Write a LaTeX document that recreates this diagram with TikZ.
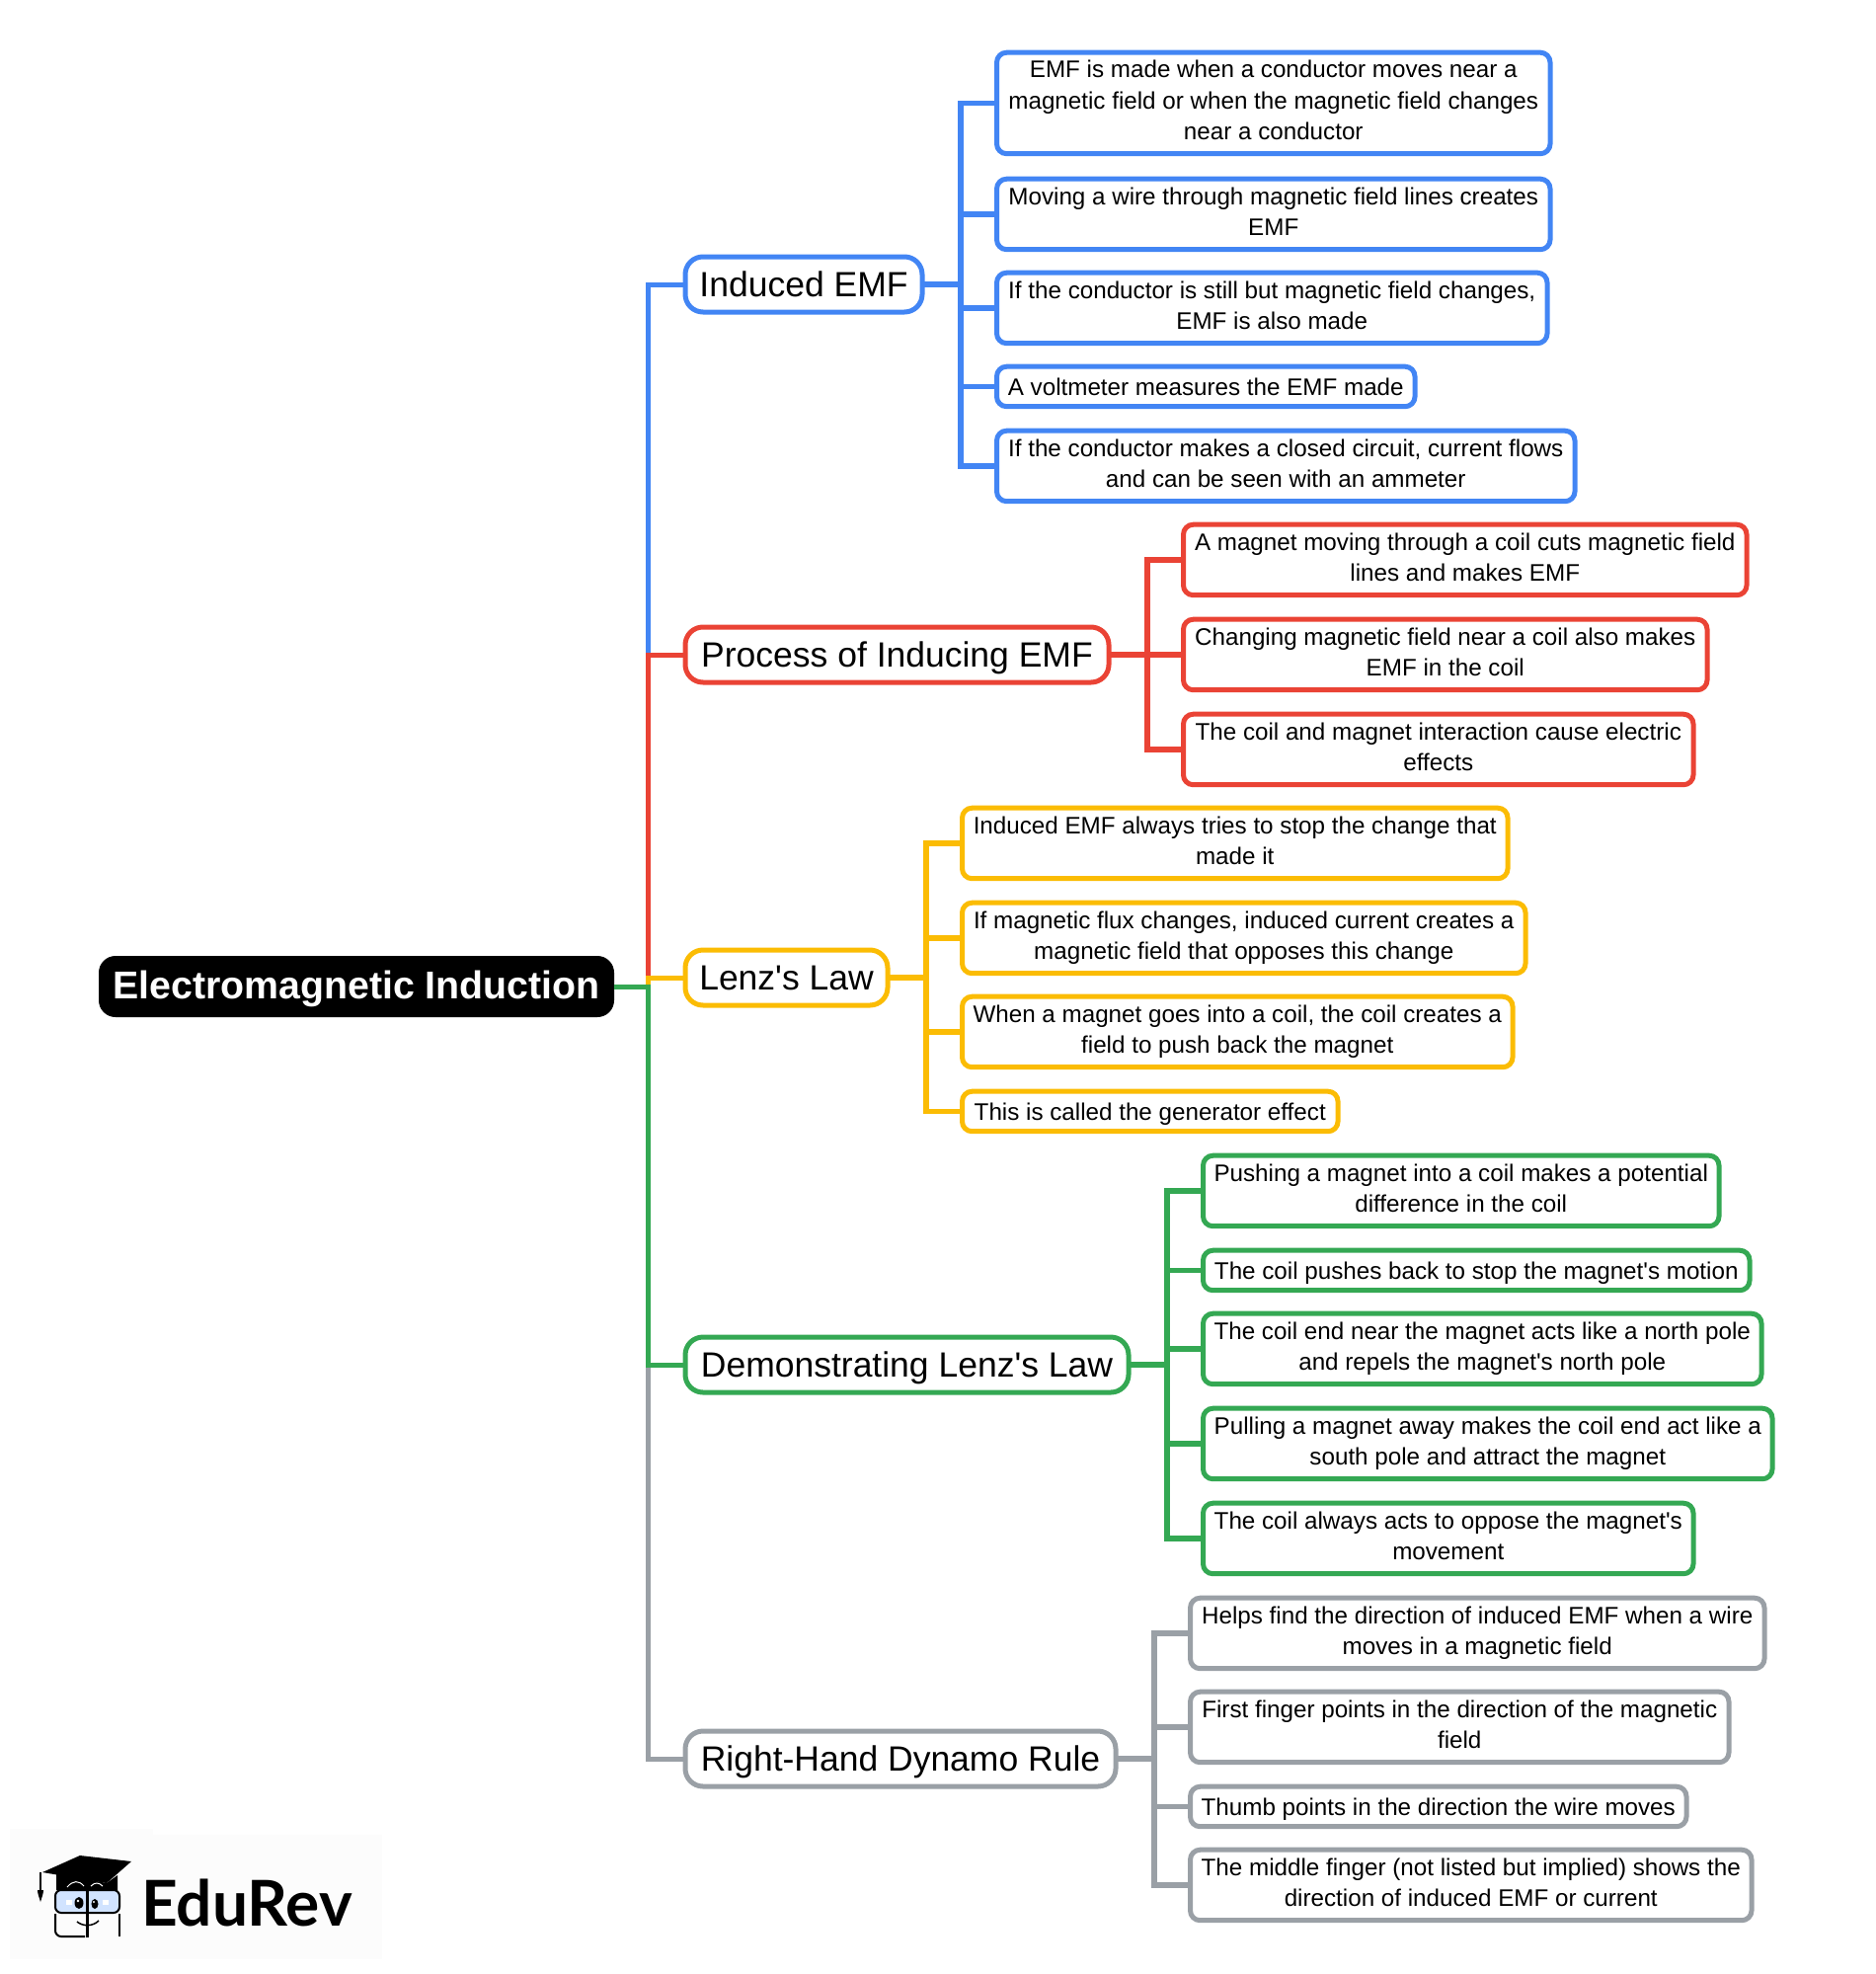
\documentclass[tikz,border=0pt]{standalone}
\usepackage{fontspec}
\setmainfont{Liberation Sans}
\newfontfamily\logofont{Lato}
\usepackage{tikz}
\usetikzlibrary{positioning}

\definecolor{gblue}{HTML}{4285F4}
\definecolor{gred}{HTML}{EA4335}
\definecolor{gyellow}{HTML}{FBBC04}
\definecolor{ggreen}{HTML}{34A853}
\definecolor{ggray}{HTML}{9AA0A6}

\tikzset{
	rootbox/.style={fill=black,text=white,rounded corners=17pt,outer sep=0,
		font=\fontsize{39.3}{46}\selectfont\bfseries,text height=28.4pt,text depth=3pt},
	mainbox/.style={draw=#1,line width=5pt,rounded corners=18pt,outer sep=0,
		font=\fontsize{35.5}{42}\selectfont,minimum height=56pt,text height=25.3pt,text depth=0pt},
	leafbox/.style={draw=#1,line width=5pt,rounded corners=10pt,outer sep=0,align=center,inner sep=0,
		font=\fontsize{24.2}{31.3}\selectfont,
		execute at begin node={\rule{0pt}{24.5pt}},
		execute at end node={\rule[-6pt]{0pt}{6pt}}},
	spine/.style={draw=#1,line width=5pt},
	stem/.style={draw=#1,line width=5.5pt}
}

\begin{document}
\begin{tikzpicture}[x=1pt,y=1pt]
		
		\useasboundingbox (0,0) rectangle (1899,-1999);
		
		% Root and branches
		\node[rootbox,
		minimum width=522pt,
		minimum height=62pt] (root) at (361,-999) {Electromagnetic Induction};
		
		\coordinate (trunk) at (656,-999);
		
		\node[mainbox=gblue,
		minimum width=240pt,
		anchor=west] (induced) at (694,-288) {Induced EMF};
		
		\node[mainbox=gred,
		below=375pt of induced.west,
		anchor=west,
		minimum width=429pt] (process) {Process of Inducing EMF};
		
		\node[mainbox=gyellow,
		below=327pt of process.west,
		anchor=west,
		minimum width=205pt] (lenz) {Lenz\textquotesingle s Law};
		
		\node[mainbox=ggreen,
		below=392pt of lenz.west,
		anchor=west,
		minimum width=449pt] (demo) {Demonstrating Lenz\textquotesingle s Law};
		
		\node[mainbox=ggray,
		below=399pt of demo.west,
		anchor=west,
		minimum width=436pt] (dynamo) {Right-Hand Dynamo Rule};
		
		% Induced EMF
		\node[leafbox=gblue,
		above right=234.8pt and 75.5pt of induced.east,
		anchor=north west,
		minimum width=560.5pt,
		minimum height=102.5pt] (induced1) {EMF is made when a conductor moves near a \\ magnetic field or when the magnetic field changes \\ near a conductor};
		
		\node[leafbox=gblue,
		below=25.5pt of induced1.south west,
		anchor=north west,
		minimum width=560.5pt,
		minimum height=71.5pt] (induced2) {Moving a wire through magnetic field lines creates \\ EMF};
		
		\node[leafbox=gblue,
		below=23.5pt of induced2.south west,
		anchor=north west,
		minimum width=557.5pt,
		minimum height=71.5pt] (induced3) {If the conductor is still but magnetic field changes, \\ EMF is also made};
		
		\node[leafbox=gblue,
		below=23.5pt of induced3.south west,
		anchor=north west,
		minimum width=423.5pt,
		minimum height=40.5pt] (induced4) {A voltmeter measures the EMF made};
		
		\node[leafbox=gblue,
		below=24.5pt of induced4.south west,
		anchor=north west,
		minimum width=585.5pt,
		minimum height=71.5pt] (induced5) {If the conductor makes a closed circuit, current flows \\ and can be seen with an ammeter};
		
		% Process of Inducing EMF
		\node[leafbox=gred,
		above right=131.8pt and 75.5pt of process.east,
		anchor=north west,
		minimum width=570.5pt,
		minimum height=71.5pt] (process1) {A magnet moving through a coil cuts magnetic field \\ lines and makes EMF};
		
		\node[leafbox=gred,
		below=24.5pt of process1.south west,
		anchor=north west,
		minimum width=530.5pt,
		minimum height=71.5pt] (process2) {Changing magnetic field near a coil also makes \\ EMF in the coil};
		
		\node[leafbox=gred,
		below=24.5pt of process2.south west,
		anchor=north west,
		minimum width=516.5pt,
		minimum height=71.5pt] (process3) {The coil and magnet interaction cause electric \\ effects};
		
		% Lenz's Law
		\node[leafbox=gyellow,
		above right=171.8pt and 75.5pt of lenz.east,
		anchor=north west,
		minimum width=552.5pt,
		minimum height=71.5pt] (lenz1) {Induced EMF always tries to stop the change that \\ made it};
		
		\node[leafbox=gyellow,
		below=24.5pt of lenz1.south west,
		anchor=north west,
		minimum width=570.5pt,
		minimum height=71.5pt] (lenz2) {If magnetic flux changes, induced current creates a \\ magnetic field that opposes this change};
		
		\node[leafbox=gyellow,
		below=23.5pt of lenz2.south west,
		anchor=north west,
		minimum width=557.5pt,
		minimum height=71.5pt] (lenz3) {When a magnet goes into a coil, the coil creates a \\ field to push back the magnet};
		
		\node[leafbox=gyellow,
		below=24.5pt of lenz3.south west,
		anchor=north west,
		minimum width=380.5pt,
		minimum height=40.5pt] (lenz4) {This is called the generator effect};
		
		% Demonstrating Lenz's Law
		\node[leafbox=ggreen,
		above right=211.8pt and 75.5pt of demo.east,
		anchor=north west,
		minimum width=522.5pt,
		minimum height=71.5pt] (demo1) {Pushing a magnet into a coil makes a potential \\ difference in the coil};
		
		\node[leafbox=ggreen,
		below=24.5pt of demo1.south west,
		anchor=north west,
		minimum width=553.5pt,
		minimum height=40.5pt] (demo2) {The coil pushes back to stop the magnet\textquotesingle s motion};
		
		\node[leafbox=ggreen,
		below=23.5pt of demo2.south west,
		anchor=north west,
		minimum width=565.5pt,
		minimum height=71.5pt] (demo3) {The coil end near the magnet acts like a north pole \\ and repels the magnet\textquotesingle s north pole};
		
		\node[leafbox=ggreen,
		below=24.5pt of demo3.south west,
		anchor=north west,
		minimum width=576.5pt,
		minimum height=71.5pt] (demo4) {Pulling a magnet away makes the coil end act like a \\ south pole and attract the magnet};
		
		\node[leafbox=ggreen,
		below=24.5pt of demo4.south west,
		anchor=north west,
		minimum width=496.5pt,
		minimum height=71.5pt] (demo5) {The coil always acts to oppose the magnet\textquotesingle s \\ movement};
		
		% Right-Hand Dynamo Rule
		\node[leafbox=ggray,
		above right=162.8pt and 75.5pt of dynamo.east,
		anchor=north west,
		minimum width=581.5pt,
		minimum height=71.5pt] (dynamo1) {Helps find the direction of induced EMF when a wire \\ moves in a magnetic field};
		
		\node[leafbox=ggray,
		below=23.5pt of dynamo1.south west,
		anchor=north west,
		minimum width=545.5pt,
		minimum height=71.5pt] (dynamo2) {First finger points in the direction of the magnetic \\ field};
		
		\node[leafbox=ggray,
		below=24.5pt of dynamo2.south west,
		anchor=north west,
		minimum width=502.5pt,
		minimum height=40.5pt] (dynamo3) {Thumb points in the direction the wire moves};
		
		\node[leafbox=ggray,
		below=23.5pt of dynamo3.south west,
		anchor=north west,
		minimum width=568.5pt,
		minimum height=71.5pt] (dynamo4) {The middle finger (not listed but implied) shows the \\ direction of induced EMF or current};
		
		% Lines from the root
		\draw[spine=gblue] (root.east) -- (trunk) |- (induced.west);
		\draw[spine=gred] (root.east) -- (trunk) |- (process.west);
		\draw[spine=gyellow] (root.east) -- (trunk) |- (lenz.west);
		\draw[spine=ggray] (root.east) -- (trunk) |- (dynamo.west);
		\draw[spine=ggreen] (root.east) -- (trunk) |- (demo.west);
		
		% Lines to the leaves
		\draw[stem=gblue] (induced.east) -- ++(39,0) |- (induced1.west);
		\draw[stem=gblue] (induced.east) -- ++(39,0) |- (induced2.west);
		\draw[stem=gblue] (induced.east) -- ++(39,0) |- (induced3.west);
		\draw[stem=gblue] (induced.east) -- ++(39,0) |- (induced4.west);
		\draw[stem=gblue] (induced.east) -- ++(39,0) |- (induced5.west);
		
		\draw[stem=gred] (process.east) -- ++(39,0) |- (process1.west);
		\draw[stem=gred] (process.east) -- ++(39,0) |- (process2.west);
		\draw[stem=gred] (process.east) -- ++(39,0) |- (process3.west);
		
		\draw[stem=gyellow] (lenz.east) -- ++(39,0) |- (lenz1.west);
		\draw[stem=gyellow] (lenz.east) -- ++(39,0) |- (lenz2.west);
		\draw[stem=gyellow] (lenz.east) -- ++(39,0) |- (lenz3.west);
		\draw[stem=gyellow] (lenz.east) -- ++(39,0) |- (lenz4.west);
		
		\draw[stem=ggreen] (demo.east) -- ++(39,0) |- (demo1.west);
		\draw[stem=ggreen] (demo.east) -- ++(39,0) |- (demo2.west);
		\draw[stem=ggreen] (demo.east) -- ++(39,0) |- (demo3.west);
		\draw[stem=ggreen] (demo.east) -- ++(39,0) |- (demo4.west);
		\draw[stem=ggreen] (demo.east) -- ++(39,0) |- (demo5.west);
		
		\draw[stem=ggray] (dynamo.east) -- ++(39,0) |- (dynamo1.west);
		\draw[stem=ggray] (dynamo.east) -- ++(39,0) |- (dynamo2.west);
		\draw[stem=ggray] (dynamo.east) -- ++(39,0) |- (dynamo3.west);
		\draw[stem=ggray] (dynamo.east) -- ++(39,0) |- (dynamo4.west);
		
		% Logo
		\fill[black!1] (10,-1852) rectangle (155,-1984);
		\fill[black!1] (155,-1858) rectangle (387,-1984);
		\fill (43,-1896) -- (81,-1879) -- (133,-1885) -- (108,-1907) -- cycle;
		\fill (57,-1897) -- (108,-1907) -- (119,-1899) -- (119,-1914) -- (57,-1914) -- cycle;
		\draw[line width=1.5pt] (41,-1896) -- (41,-1916);
		\fill (38,-1914) .. controls (38,-1918) and (40,-1922) .. (41,-1926) .. controls (42,-1922) and (44,-1918) .. (44,-1914) -- cycle;
		\draw[white,line width=1pt] (68,-1911) .. controls (74,-1904) and (80,-1904) .. (85,-1910);
		\draw[white,line width=1pt] (92,-1910) .. controls (96,-1906) and (100,-1906) .. (104,-1910);
		\draw[line width=2pt,fill=blue!60!cyan!18,rounded corners=6pt] (56,-1914) rectangle (121,-1937);
		\draw[line width=2pt,rounded corners=6pt] (56,-1938) -- (56,-1961) -- (86,-1961);
		\draw[line width=2pt,rounded corners=6pt] (121,-1938) -- (121,-1961);
		\draw[line width=2.5pt] (88.5,-1913) -- (88.5,-1962);
		\fill (80,-1927) ellipse [x radius=4.5pt,y radius=6pt];
		\fill (96,-1928) ellipse [x radius=3.5pt,y radius=5pt];
		\fill[white] (79,-1925) circle (1.3pt);
		\fill[white] (95,-1926) circle (1.1pt);
		\fill[white] (67,-1924) rectangle (73,-1929);
		\fill[white] (104,-1924) rectangle (110,-1929);
		\draw[line width=1.5pt] (78,-1946) .. controls (84,-1951) and (94,-1951) .. (100,-1945);
		
		\node[inner sep=0,
		anchor=base west] (edurev) at (143,-1950) {\fontsize{64}{70}\selectfont\logofont\bfseries EduRev};
		
\end{tikzpicture}
\end{document}
